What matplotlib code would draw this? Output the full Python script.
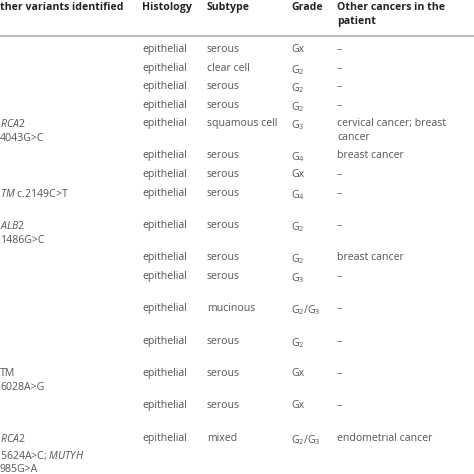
import matplotlib
matplotlib.use("Agg")
from matplotlib import pyplot as plt

plt.rcParams['font.family'] = ['Open Sans', 'DejaVu Sans']
plt.rcParams['mathtext.fontset'] = 'custom'
plt.rcParams['mathtext.rm'] = 'Open Sans'
plt.rcParams['mathtext.it'] = 'Open Sans:italic'

W = H = 474
headers = ["ther variants identified", "Histology", "Subtype", "Grade", "Other cancers in the\npatient"]
histology = ["epithelial"] * 16
subtype = ["serous", "clear cell", "serous", "serous", "squamous cell", "serous", "serous", "serous",
           "serous", "serous", "serous", "mucinous", "serous", "serous", "serous", "mixed"]
grade = ["Gx", "G$_2$", "G$_2$", "G$_2$", "G$_3$", "G$_4$", "Gx", "G$_4$",
         "G$_2$", "G$_2$", "G$_3$", "G$_2$/G$_3$", "G$_2$", "Gx", "Gx", "G$_2$/G$_3$"]
other = ["–", "–", "–", "–", "cervical cancer; breast\ncancer", "breast cancer", "–", "–",
         "–", "breast cancer", "–", "–", "–", "–", "–", "endometrial cancer"]
variants = ["", "", "", "", "$\\it{RCA2}$\n4043G>C", "", "", "$\\it{TM}$ c.2149C>T",
            "$\\it{ALB2}$\n1486G>C", "", "", "", "", "TM\n6028A>G", "",
            "$\\it{RCA2}$\n5624A>C; $\\it{MUTYH}$\n985G>A"]
row_y = [50, 69, 87, 106, 124, 156, 175, 194, 226, 258, 277, 309, 342, 374, 406, 439]
col_x = [0, 142, 207, 291, 337]

fig = plt.figure(figsize=(4.74, 4.74), dpi=100)
fig.patch.set_facecolor("white")

def put(x, y, s, **kw):
    fig.text(x / W, 1 - y / H, s, va="top", ha="left", fontsize=7.6,
             linespacing=1.35, **kw)

for x, h in zip(col_x, headers):
    put(x, 2, h, color="#222222", fontweight="bold")
fig.add_artist(plt.Line2D([0, 1], [1 - 36 / H, 1 - 36 / H], color="#bbbbbb", lw=1.5))

for i, y in enumerate(row_y):
    for x, col in zip(col_x, [variants, histology, subtype, grade, other]):
        if col[i]:
            put(x, y - 6, col[i], color="#555555")

fig.savefig("out.png", dpi=100)
